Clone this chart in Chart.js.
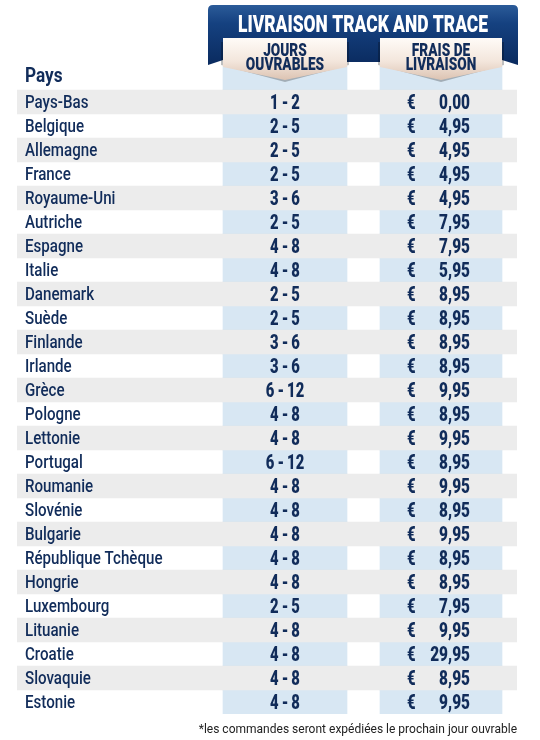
<!DOCTYPE html>
<html>
<head>
<meta charset="utf-8">
<script src="https://cdn.jsdelivr.net/npm/chart.js@4.4.0/dist/chart.umd.min.js"></script>
<style>
  html, body { margin: 0; padding: 0; background: #fff; }
  #wrap { width: 540px; height: 740px; }
</style>
</head>
<body>
<div id="wrap"><canvas id="table" width="540" height="740"></canvas></div>
<script>
// ===============================
// DATA
// ===============================
const pays = ["Pays-Bas", "Belgique", "Allemagne", "France", "Royaume-Uni", "Autriche", "Espagne",
  "Italie", "Danemark", "Suède", "Finlande", "Irlande", "Grèce", "Pologne", "Lettonie", "Portugal",
  "Roumanie", "Slovénie", "Bulgarie", "République Tchèque", "Hongrie", "Luxembourg", "Lituanie",
  "Croatie", "Slovaquie", "Estonie"];
const jours = ["1-2", "2-5", "2-5", "2-5", "3-6", "2-5", "4-8", "4-8", "2-5", "2-5", "3-6", "3-6",
  "6-12", "4-8", "4-8", "6-12", "4-8", "4-8", "4-8", "4-8", "4-8", "2-5", "4-8", "4-8", "4-8", "4-8"];
const frais = [0.00, 4.95, 4.95, 4.95, 4.95, 7.95, 7.95, 5.95, 8.95, 8.95, 8.95, 8.95, 9.95, 8.95,
  9.95, 8.95, 9.95, 8.95, 9.95, 8.95, 8.95, 7.95, 9.95, 29.95, 8.95, 9.95];

const titre = "LIVRAISON TRACK AND TRACE";
const enteteJours = ["JOURS", "OUVRABLES"];
const enteteFrais = ["FRAIS DE", "LIVRAISON"];
const enteteRangee = "Pays";
const note = "*les commandes seront expédiées le prochain jour ouvrable";

// ===============================
// STYLE
// ===============================
const NAVY = "#112c5a";
const FONT = "Roboto, 'Noto Sans', sans-serif";
const COL_JOURS = [206, 330];   // x units (0..500 across the table)
const COL_FRAIS = [363, 485];

const rows = [enteteRangee, ...pays];
const striped = i => i % 2 === 1;

function formatFrais(v) {
  return v.toFixed(2).replace(".", ",");
}

// texte "condensé" : pas de police étroite installée, on comprime à l'horizontale
function narrow(ctx, text, x, y, align, font, sx) {
  ctx.save();
  ctx.font = font;
  ctx.textAlign = align;
  ctx.textBaseline = "alphabetic";
  ctx.translate(x, y);
  ctx.scale(sx, 1);
  ctx.fillText(text, 0, 0);
  ctx.restore();
}

// ===============================
// PLUGINS
// ===============================
const cellText = {
  id: "cellText",
  afterDatasetsDraw(chart) {
    const { ctx, scales: { x, y } } = chart;
    ctx.save();
    ctx.fillStyle = NAVY;
    const nameX = x.getPixelForValue(8);
    const cJours = x.getPixelForValue((COL_JOURS[0] + COL_JOURS[1]) / 2);
    const euroX = x.getPixelForValue(COL_FRAIS[0] + 27);
    const prixX = x.getPixelForValue(COL_FRAIS[1] - 32);
    chart.data.labels.forEach((lab, i) => {
      const yc = y.getPixelForValue(i);
      if (i === 0) {
        narrow(ctx, lab, nameX, yc + 4, "left", "bold 21px " + FONT, 0.82);
        return;
      }
      narrow(ctx, lab, nameX, yc + 6, "left", "500 18px " + FONT, 0.84);
      const b = "900 20px " + FONT;
      narrow(ctx, jours[i - 1].replace("-", "\u2009-\u2009"), cJours, yc + 7, "center", b, 0.74);
      narrow(ctx, "€", euroX, yc + 7, "left", b, 0.74);
      narrow(ctx, formatFrais(frais[i - 1]), prixX, yc + 7, "right", b, 0.77);
    });
    ctx.restore();
  }
};

const header = {
  id: "header",
  afterDraw(chart) {
    const { ctx, scales: { x }, chartArea } = chart;
    const a1 = x.getPixelForValue(COL_JOURS[0]), b1 = x.getPixelForValue(COL_JOURS[1]);
    const a2 = x.getPixelForValue(COL_FRAIS[0]), b2 = x.getPixelForValue(COL_FRAIS[1]);
    const L = a1 - 15, R = b2 + 16, T = 5, B = chartArea.top;
    ctx.save();

    // bandeau bleu
    const g = ctx.createLinearGradient(0, T, 0, B);
    g.addColorStop(0, "#2b5b99");
    g.addColorStop(0.3, "#154180");
    g.addColorStop(1, "#0a2a5e");
    ctx.fillStyle = g;
    ctx.beginPath();
    ctx.moveTo(L, T + 5);
    ctx.quadraticCurveTo(L, T, L + 5, T);
    ctx.lineTo(R - 5, T);
    ctx.quadraticCurveTo(R, T, R, T + 5);
    ctx.lineTo(R, B - 1);
    ctx.lineTo(b2, B - 6);
    ctx.lineTo(a2, B - 4);
    ctx.lineTo(b1, B - 4);
    ctx.lineTo(a1, B - 6);
    ctx.lineTo(L, B - 1);
    ctx.closePath();
    ctx.fill();

    ctx.fillStyle = "#fff";
    ctx.font = "900 24px " + FONT;
    const tw = ctx.measureText(titre).width;
    narrow(ctx, titre, (L + R) / 2, T + 27, "center", ctx.font, 250 / tw);

    // onglets
    [[a1, b1, enteteJours], [a2, b2, enteteFrais]].forEach(([a, b, txt]) => {
      const top = T + 33, side = B + 1, pt = B + 14, c = (a + b) / 2;
      ctx.fillStyle = "rgba(0,0,0,0.25)";
      ctx.beginPath();
      ctx.moveTo(a - 2, side - 2);
      ctx.lineTo(c, pt + 2);
      ctx.lineTo(b + 2, side - 2);
      ctx.lineTo(b + 2, top + 4);
      ctx.lineTo(a - 2, top + 4);
      ctx.closePath();
      ctx.fill();
      const tg = ctx.createLinearGradient(0, top, 0, pt);
      tg.addColorStop(0, "#fffbf7");
      tg.addColorStop(0.55, "#f3e6dc");
      tg.addColorStop(1, "#dcc3b2");
      ctx.fillStyle = tg;
      ctx.beginPath();
      ctx.moveTo(a, top);
      ctx.lineTo(b, top);
      ctx.lineTo(b, side);
      ctx.lineTo(c, pt);
      ctx.lineTo(a, side);
      ctx.closePath();
      ctx.fill();
      ctx.fillStyle = NAVY;
      narrow(ctx, txt[0], c, top + 18, "center", "900 18px " + FONT, 0.76);
      narrow(ctx, txt[1], c, top + 32, "center", "900 18px " + FONT, 0.76);
    });

    // note
    ctx.fillStyle = "#222";
    narrow(ctx, note, chartArea.right, chartArea.bottom + 19, "right", "13.5px " + FONT, 0.89);
    ctx.restore();
  }
};

// ===============================
// CHART
// ===============================
const colonne = range => ({
  data: rows.map(() => range),
  backgroundColor: rows.map((_, i) => striped(i) ? "#c8d9e7" : "#d8e7f3"),
  grouped: false,
  barPercentage: 1,
  categoryPercentage: 1,
  borderWidth: 0
});

new Chart(document.getElementById("table"), {
  type: "bar",
  data: {
    labels: rows,
    datasets: [
      {
        data: rows.map((_, i) => striped(i) ? [0, 500] : null),
        backgroundColor: "#ececec",
        grouped: false,
        barPercentage: 1,
        categoryPercentage: 1,
        borderWidth: 0
      },
      colonne(COL_JOURS),
      colonne(COL_FRAIS)
    ]
  },
  options: {
    indexAxis: "y",
    responsive: false,
    animation: false,
    devicePixelRatio: 1,
    layout: { padding: { top: 66, bottom: 26, left: 17, right: 23 } },
    plugins: { legend: { display: false }, tooltip: { enabled: false } },
    scales: {
      x: { type: "linear", min: 0, max: 500, display: false },
      y: { type: "category", display: false }
    }
  },
  plugins: [cellText, header]
});
</script>
</body>
</html>
